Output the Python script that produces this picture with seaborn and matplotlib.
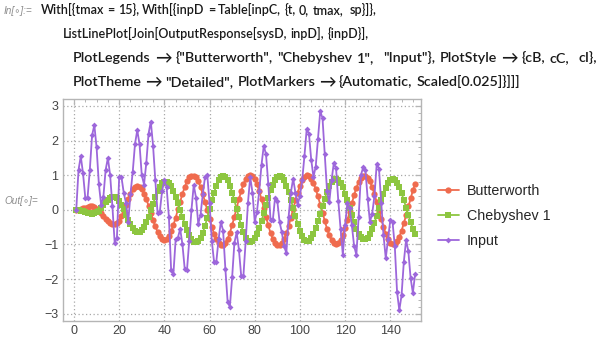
import matplotlib
matplotlib.use("Agg")
import matplotlib.pyplot as plt
import seaborn as sns
import numpy as np
import pandas as pd

# sample index (ListLinePlot numbers the samples from 1)
butterworth = [
    0.00, 0.005, 0.02, 0.04, 0.065, 0.085, 0.10, 0.10, 0.074, 0.031,
    -0.03, -0.10, -0.18, -0.255, -0.32, -0.375, -0.41, -0.42, -0.39, -0.31,
    -0.19, -0.03, 0.14, 0.31, 0.47, 0.59, 0.67, 0.70, 0.67, 0.60,
    0.47, 0.31, 0.12, -0.085, -0.29, -0.48, -0.64, -0.765, -0.84, -0.87,
    -0.84, -0.75, -0.62, -0.44, -0.225, 0.01, 0.24, 0.46, 0.66, 0.82,
    0.935, 0.99, 0.99, 0.935, 0.82, 0.66, 0.46, 0.23, -0.015, -0.26,
    -0.49, -0.69, -0.85, -0.965, -1.02, -1.02, -0.96, -0.835, -0.66, -0.44,
    -0.20, 0.06, 0.31, 0.54, 0.74, 0.89, 0.99, 1.02, 0.99, 0.89,
    0.74, 0.54, 0.31, 0.05, -0.20, -0.45, -0.67, -0.84, -0.97, -1.03,
    -1.03, -0.97, -0.85, -0.68, -0.47, -0.23, 0.02, 0.27, 0.50, 0.70,
    0.855, 0.955, 1.00, 0.98, 0.90, 0.77, 0.60, 0.385, 0.15, -0.09,
    -0.33, -0.55, -0.73, -0.87, -0.96, -0.99, -0.96, -0.87, -0.72, -0.53,
    -0.30, -0.06, 0.19, 0.43, 0.64, 0.81, 0.93, 0.99, 0.99, 0.93,
    0.82, 0.65, 0.45, 0.22, -0.025, -0.27, -0.49, -0.69, -0.85, -0.95,
    -1.00, -0.985, -0.91, -0.78, -0.60, -0.39, -0.15, 0.10, 0.34, 0.56,
    0.75,
]

chebyshev = [
    0.00, -0.005, -0.02, -0.04, -0.065, -0.085, -0.10, -0.11, -0.106, -0.077,
    -0.022, 0.05, 0.135, 0.22, 0.29, 0.345, 0.375, 0.375, 0.33, 0.25,
    0.14, 0.01, -0.135, -0.28, -0.41, -0.52, -0.60, -0.645, -0.645, -0.595,
    -0.50, -0.36, -0.195, -0.01, 0.18, 0.365, 0.53, 0.67, 0.765, 0.815,
    0.815, 0.765, 0.675, 0.545, 0.38, 0.19, -0.01, -0.21, -0.41, -0.585,
    -0.735, -0.845, -0.915, -0.94, -0.905, -0.81, -0.66, -0.46, -0.23, 0.02,
    0.27, 0.50, 0.70, 0.85, 0.945, 0.98, 0.95, 0.85, 0.70, 0.50,
    0.27, 0.025, -0.22, -0.45, -0.65, -0.80, -0.90, -0.93, -0.90, -0.82,
    -0.69, -0.52, -0.315, -0.095, 0.135, 0.355, 0.56, 0.73, 0.86, 0.94,
    0.97, 0.94, 0.85, 0.70, 0.51, 0.29, 0.055, -0.185, -0.41, -0.61,
    -0.765, -0.865, -0.91, -0.89, -0.82, -0.70, -0.535, -0.335, -0.12, 0.11,
    0.325, 0.52, 0.69, 0.81, 0.88, 0.90, 0.86, 0.775, 0.645, 0.47,
    0.275, 0.065, -0.15, -0.355, -0.54, -0.69, -0.79, -0.85, -0.855, -0.805,
    -0.705, -0.555, -0.375, -0.165, 0.055, 0.27, 0.47, 0.64, 0.77, 0.85,
    0.88, 0.855, 0.775, 0.645, 0.48, 0.28, 0.065, -0.155, -0.36, -0.55,
    -0.70,
]

input_signal = [
    0.00, 1.15, 1.55, 1.05, 0.35, 0.35, 1.15, 2.15, 2.45, 1.80,
    0.75, 0.15, 0.37, 1.15, 1.50, 1.00, 0.10, -0.95, -0.80, 0.95,
    0.95, 0.50, 0.20, -0.35, 0.45, 1.10, 1.90, 2.30, 1.90, 1.00,
    0.73, 1.35, 2.20, 2.55, 1.85, 0.85, -0.10, -0.05, 0.55, 0.85,
    0.65, -0.20, -1.75, -1.85, -0.85, -0.80, -0.55, -1.00, -1.70, -1.75,
    -0.90, 0.00, 0.72, 0.35, -0.40, -0.15, 0.45, 0.95, 1.00, 0.20,
    -0.90, -1.50, -1.50, -0.85, -0.35, -0.60, -1.70, -2.65, -2.80, -1.95,
    -0.95, -0.65, -1.15, -1.90, -1.90, -0.90, 0.20, 0.95, 0.50, -0.35,
    -0.05, 0.55, 1.30, 1.85, 1.60, 0.75, -0.30, -0.30, 0.35, 0.25,
    -0.35, -0.65, -1.05, -1.25, -0.20, 0.50, 0.90, 0.50, 0.15, 0.40,
    0.85, 1.55, 2.33, 2.20, 1.45, 0.95, 1.25, 2.05, 2.85, 2.65,
    1.60, 0.55, 0.22, 0.85, 1.35, 1.20, 0.25, -0.55, -1.30, -0.45,
    0.20, 0.05, -0.45, -1.05, -1.30, -0.20, 1.00, 1.23, 1.14, 0.32,
    -0.35, -0.11, 0.40, 1.33, 1.19, 0.20, -0.73, -1.40, -0.85, -0.30,
    -0.35, -1.05, -2.37, -2.90, -2.46, -1.50, -0.87, -1.20, -1.97, -2.40,
    -1.85,
]

series_names = ["Butterworth", "Chebyshev 1", "Input"]
series_colors = ["#EF6B4E", "#8DC640", "#9D67DB"]
x_ticks = [0, 20, 40, 60, 80, 100, 120, 140]
y_ticks = [-3, -2, -1, 0, 1, 2, 3]

code_lines = [
    "With[{tmax = 15}, With[{inpD = Table[inpC, {t, 0, tmax,  sp}]},",
    "ListLinePlot[Join[OutputResponse[sysD, inpD], {inpD}],",
    "PlotLegends \u2192 {\"Butterworth\", \"Chebyshev 1\",  \"Input\"}, PlotStyle \u2192 {cB, cC,  cI},",
    "PlotTheme \u2192 \"Detailed\", PlotMarkers \u2192 {Automatic, Scaled[0.025]}]]]",
]

n = len(input_signal)
idx = np.arange(1, n + 1)
data = pd.DataFrame({
    "t": np.tile(idx, 3),
    "value": np.concatenate([butterworth, chebyshev, input_signal]),
    "series": np.repeat(series_names, n),
})

sns.set_theme(style="white")
plt.rcParams["font.family"] = ["Liberation Sans", "DejaVu Sans"]

W, H = 602, 339
fig = plt.figure(figsize=(W / 100, H / 100), dpi=100)
fig.patch.set_facecolor("white")

left, right, top, bottom = 62.7, 421.0, 99.0, 321.0
ax = fig.add_axes([left / W, 1 - bottom / H, (right - left) / W, (bottom - top) / H])

markers = {"Butterworth": "o", "Chebyshev 1": "s", "Input": "D"}
msizes = {"Butterworth": 4.5, "Chebyshev 1": 4.3, "Input": 3.0}
for i, (name, col) in enumerate(zip(series_names, series_colors)):
    sub = data[data["series"] == name]
    sns.lineplot(data=sub, x="t", y="value", ax=ax, color=col, linewidth=1.3,
                 marker=markers[name], markersize=msizes[name],
                 markeredgewidth=0, label=name, zorder=3 + i)

ax.set_xlim(-3.2, 153.6)
ax.set_ylim(-3.21, 3.18)
ax.set_xlabel("")
ax.set_ylabel("")

ax.set_xticks(x_ticks)
ax.set_yticks(y_ticks)
ax.set_xticks(np.arange(-5, 155, 5), minor=True)
ax.set_yticks(np.arange(-3.2, 3.21, 0.2), minor=True)
ax.set_xticklabels([str(v) for v in x_ticks])
ax.set_yticklabels([str(v).replace("-", "\u2212") for v in y_ticks])

frame_col = "#b5b5b5"
for sp in ax.spines.values():
    sp.set_color(frame_col)
    sp.set_linewidth(1.0)
ax.tick_params(which="both", direction="in", top=True, right=True,
               color=frame_col, labelcolor="#444444", labelsize=9)
ax.tick_params(which="major", length=4.5, width=0.9, pad=3)
ax.tick_params(which="minor", length=2.5, width=0.7)
ax.grid(True, which="major", color="#a8a8a8", linestyle=(0, (1, 2)), linewidth=0.9)
ax.set_axisbelow(True)

handles, labels = ax.get_legend_handles_labels()
if ax.legend_:
    ax.legend_.remove()
fig.legend(handles, labels, loc="center left",
           bbox_to_anchor=(428 / W, 1 - 216 / H), frameon=False,
           fontsize=10.3, handlelength=1.45, handletextpad=0.55,
           labelspacing=0.78, borderpad=0.2)

# notebook cell labels
fig.text(4 / W, 1 - 14 / H, "In[\u2218]:=", fontsize=7.2, style="italic",
         color="#8c8c8c", va="baseline")
fig.text(4 / W, 1 - 204 / H, "Out[\u2218]=", fontsize=7.2, style="italic",
         color="#8c8c8c", va="baseline")

# input cell: words laid out one after another; the gap unit is chosen
# so each line ends where it should
renderer = fig.canvas.get_renderer()
code_x = [41, 63, 73, 73]
code_end = [372, 347, 597, 520]
code_y = [14.5, 38.5, 62.5, 86.5]
code_fs = [9.0, 9.0, 10.3, 10.3]
ARROW = "\u2192"
for s, x0, x1, cy, fsz in zip(code_lines, code_x, code_end, code_y, code_fs):
    tokens = s.split(" ")
    items = []
    for k, tok in enumerate(tokens):
        if k > 0:
            near_arrow = tok == ARROW or tokens[k - 1] == ARROW
            items.append(("gap", 0.9 if near_arrow else 1.0))
        if tok == "":
            continue
        fs = 12.0 if tok == ARROW else fsz
        t = fig.text(0, 1 - cy / H, tok, fontsize=fs, weight="semibold",
                     color="#1a1a1a", family=["Lato", "DejaVu Sans"], va="baseline")
        items.append(("word", t, t.get_window_extent(renderer).width))
    total = sum(it[2] for it in items if it[0] == "word")
    units = sum(it[1] for it in items if it[0] == "gap")
    unit = max((x1 - x0 - total) / max(units, 1), 3.2)
    x = x0
    for it in items:
        if it[0] == "gap":
            x += unit * it[1]
        else:
            it[1].set_x(x / W)
            x += it[2]

fig.savefig("out.png", dpi=100, facecolor="white")
